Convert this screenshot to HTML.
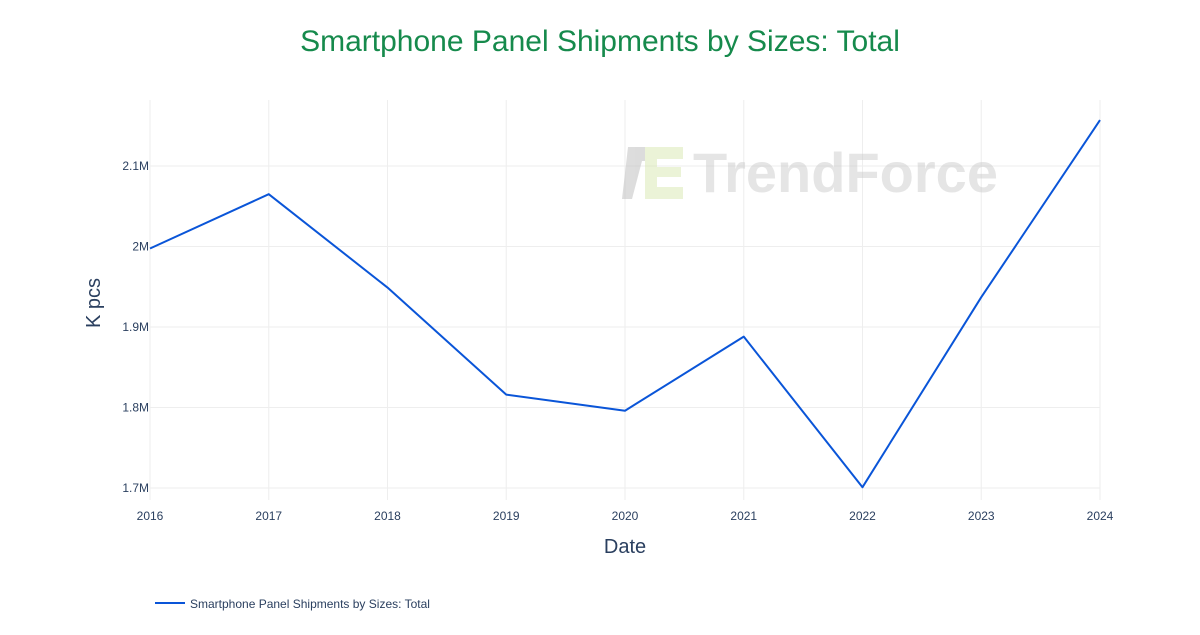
<!DOCTYPE html>
<html><head><meta charset="utf-8"><style>
body{margin:0;background:#fff;font-family:"Liberation Sans",sans-serif;}
</style></head><body>
<svg id="chart" width="1200" height="630" xmlns="http://www.w3.org/2000/svg" font-family="Liberation Sans, sans-serif">
<rect width="1200" height="630" fill="#fff"/>
<text x="600" y="51" text-anchor="middle" font-size="30" fill="#168a4c">Smartphone Panel Shipments by Sizes: Total</text>
<g id="grid"></g>
<g opacity="0.5">
<path d="M628 147h32l-4 14h-14l-10 38h-10z" fill="#bbb"/>
<path d="M645 147h38v12h-26v8h24v10h-24v10h26v12h-38z" fill="#d8e8b0"/>
<text x="693" y="192" font-size="56" font-weight="bold" fill="#ccc">TrendForce</text>
</g>
<g id="axes"></g>
<g id="series"></g>
<text transform="translate(100,303) rotate(-90)" text-anchor="middle" font-size="20" fill="#2a3f5f">K pcs</text>
<text x="625" y="553" text-anchor="middle" font-size="20" fill="#2a3f5f">Date</text>
<g>
<line x1="155" y1="603" x2="185" y2="603" stroke="#0a55d8" stroke-width="2"/>
<text x="190" y="608" font-size="12" fill="#2a3f5f">Smartphone Panel Shipments by Sizes: Total</text>
</g>
</svg>
<script>
const years=[2016,2017,2018,2019,2020,2021,2022,2023,2024];
const values=[1997500,2065000,1949000,1816000,1796000,1888000,1701000,1937000,2157000];
const yTicks=[1700000,1800000,1900000,2000000,2100000];
const yTickLabels=["1.7M","1.8M","1.9M","2M","2.1M"];
const NS="http://www.w3.org/2000/svg";
const X=v=>150+(v-2016)*(950/8);
const Y=v=>488-(v-1700000)*(805/1000000);
const grid=document.getElementById('grid'),axes=document.getElementById('axes'),series=document.getElementById('series');
function mk(tag,attrs,parent){const e=document.createElementNS(NS,tag);for(const k in attrs)e.setAttribute(k,attrs[k]);parent.appendChild(e);return e;}
years.forEach(y=>{
 const l=mk('line',{x1:X(y),x2:X(y),y1:100,y2:500,stroke:'#eee','stroke-width':1},grid);
 
 
 const t=mk('text',{x:X(y),y:520,'text-anchor':'middle','font-size':12,fill:'#2a3f5f'},axes);
 t.textContent=y;
 
 
});
yTicks.forEach((v,i)=>{
 const l=mk('line',{x1:150,x2:1100,y1:Y(v),y2:Y(v),stroke:'#eee','stroke-width':1},grid);
 
 
 const t=mk('text',{x:149,y:Y(v)+4,'text-anchor':'end','font-size':12,fill:'#2a3f5f'},axes);
 t.textContent=yTickLabels[i];
 
 
});
const p=mk('polyline',{points:years.map((y,i)=>X(y)+','+Y(values[i])).join(' '),fill:'none',stroke:'#0a55d8','stroke-width':2,'stroke-linejoin':'round'},series);


</script>
</body></html>
